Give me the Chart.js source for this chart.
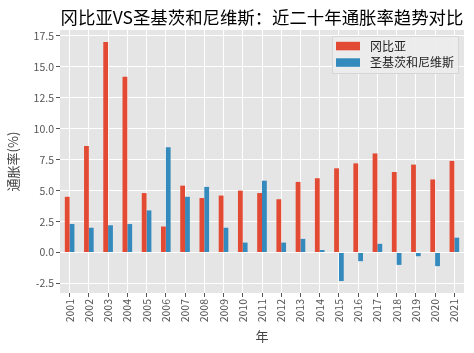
<!DOCTYPE html>
<html>
<head>
<meta charset="utf-8">
<script src="https://cdn.jsdelivr.net/npm/chart.js@4/dist/chart.umd.min.js"></script>
<style>
html,body{margin:0;padding:0;background:#fff;}
#wrap{width:474px;height:353px;}
</style>
</head>
<body>
<div id="wrap"><canvas id="c" width="474" height="353"></canvas></div>
<script>
const years = ['2001','2002','2003','2004','2005','2006','2007','2008','2009','2010','2011','2012','2013','2014','2015','2016','2017','2018','2019','2020','2021'];
const gambia = [4.5, 8.6, 17.0, 14.2, 4.8, 2.1, 5.4, 4.4, 4.6, 5.0, 4.8, 4.3, 5.7, 6.0, 6.8, 7.2, 8.0, 6.5, 7.1, 5.9, 7.4];
const stkitts = [2.3, 2.0, 2.2, 2.3, 3.4, 8.5, 4.5, 5.3, 2.0, 0.8, 5.8, 0.8, 1.1, 0.2, -2.3, -0.7, 0.7, -1.0, -0.3, -1.1, 1.2];
const seriesNames = ['冈比亚', '圣基茨和尼维斯'];
const yTicks = [-2.5, 0.0, 2.5, 5.0, 7.5, 10.0, 12.5, 15.0, 17.5];
const titleText = '冈比亚VS圣基茨和尼维斯：近二十年通胀率趋势对比';
const xTitle = '年';
const yTitle = '通胀率(%)';

const FONT = '"Noto Sans CJK SC", "DejaVu Sans", sans-serif';

const bgPlugin = {
  id: 'bg',
  beforeDraw(chart) {
    const {ctx, chartArea: a} = chart;
    ctx.save();
    ctx.fillStyle = '#E5E5E5';
    ctx.fillRect(a.left, a.top, a.right - a.left, a.bottom - a.top);
    ctx.restore();
  },
  afterDraw(chart) {
    const {ctx, chartArea: a} = chart;
    ctx.save();
    ctx.font = '17.4px ' + FONT;
    ctx.fillStyle = '#000';
    ctx.textAlign = 'center';
    ctx.textBaseline = 'middle';
    ctx.fillText(titleText, (a.left + a.right) / 2, 17);
    ctx.restore();
  }
};

const legendPlugin = {
  id: 'boxLegend',
  afterDraw(chart) {
    const {ctx, chartArea: a} = chart;
    const bx = a.right - 132, by = a.top + 6, bw = 126, bh = 37;
    ctx.save();
    ctx.fillStyle = 'rgba(236,236,236,0.9)';
    ctx.strokeStyle = '#D6D6D6';
    ctx.lineWidth = 1;
    ctx.beginPath();
    ctx.rect(bx + 0.5, by + 0.5, bw, bh);
    ctx.fill();
    ctx.stroke();
    ctx.font = '12px ' + FONT;
    ctx.textBaseline = 'middle';
    chart.data.datasets.forEach((ds, i) => {
      const cy = by + 10 + i * 16.5;
      ctx.fillStyle = ds.backgroundColor;
      ctx.fillRect(bx + 4, cy - 4.2, 24, 8.5);
      ctx.fillStyle = '#222';
      ctx.fillText(ds.label, bx + 38, cy);
    });
    ctx.restore();
  }
};

new Chart(document.getElementById('c'), {
  type: 'bar',
  data: {
    labels: years,
    datasets: [
      {label: seriesNames[0], data: gambia, backgroundColor: '#E24A33', categoryPercentage: 0.5, barPercentage: 1.0},
      {label: seriesNames[1], data: stkitts, backgroundColor: '#348ABD', categoryPercentage: 0.5, barPercentage: 1.0}
    ]
  },
  plugins: [bgPlugin, legendPlugin],
  options: {
    responsive: false,
    animation: false,
    devicePixelRatio: 1,
    layout: {padding: {left: 0, right: 10, top: 30, bottom: 0}},
    plugins: {
      legend: {display: false},
      tooltip: {enabled: false},
      title: {display: false}
    },
    scales: {
      x: {
        offset: true,
        grid: {color: '#FFFFFF', lineWidth: 1, offset: false, drawTicks: true, tickLength: 4, tickColor: '#555555'},
        border: {display: false},
        ticks: {color: '#555555', font: {family: FONT, size: 10.5}, minRotation: 90, maxRotation: 90, padding: 2, autoSkip: false},
        title: {display: true, text: xTitle, color: '#444444', font: {family: FONT, size: 13}, padding: {top: 0, bottom: 9}},
        afterFit(s) { s.height = 60; }
      },
      y: {
        min: -3.27,
        max: 17.97,
        grid: {color: '#FFFFFF', lineWidth: 1, drawTicks: true, tickLength: 4, tickColor: '#555555'},
        border: {display: false},
        afterBuildTicks(s) { s.ticks = yTicks.map(v => ({value: v})); },
        ticks: {color: '#555555', font: {family: FONT, size: 10.5}, padding: 2,
          callback: v => Number(v).toFixed(1)},
        title: {display: true, text: yTitle, color: '#444444', font: {family: FONT, size: 13}, padding: {top: 5, bottom: 2}},
        afterFit(s) { s.width = 60; }
      }
    }
  }
});
</script>
</body>
</html>
